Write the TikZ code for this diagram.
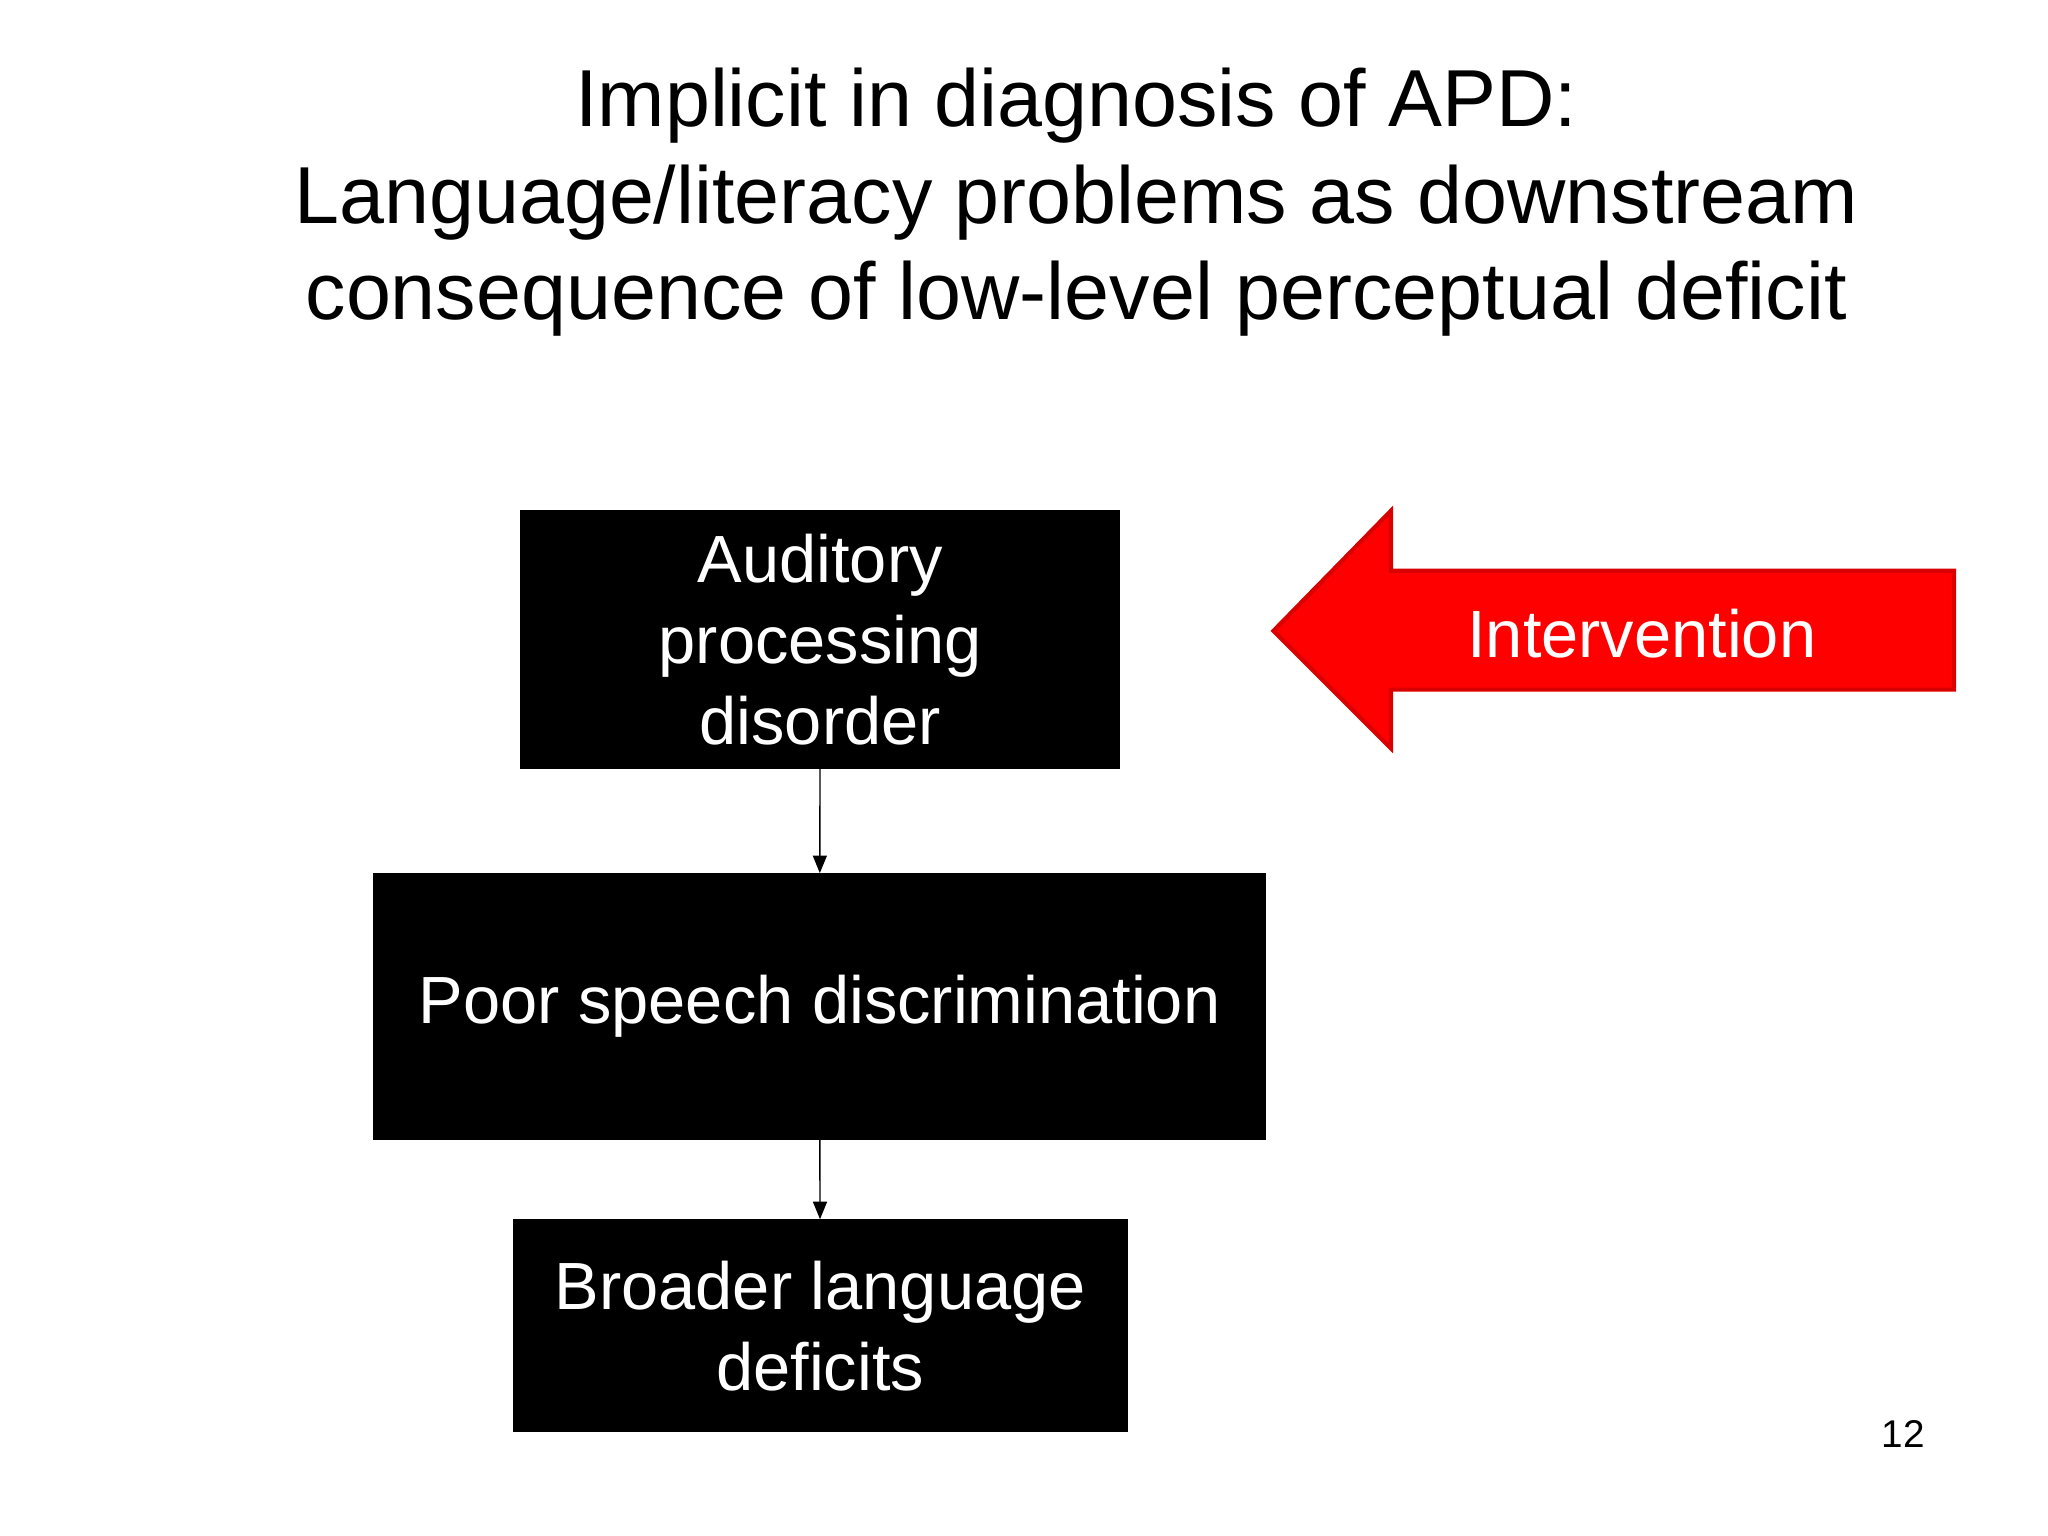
\documentclass[tikz,border=0pt]{standalone}
\usepackage{fontspec}
\setmainfont{Liberation Sans}
\usetikzlibrary{positioning}
\usetikzlibrary{arrows.meta}

\tikzset{
  box/.style={draw=black, fill=black, text=white, align=center, inner sep=0pt,
    font=\fontsize{19}{23}\selectfont},
  link/.style={-{Triangle[length=5pt,width=4pt]}, thin}
}

\begin{document}
\begin{tikzpicture}[x=0.01306cm, y=-0.01306cm]
    \useasboundingbox (0,0) rectangle (1568,1176);

    % title
    \node[align=center, font=\fontsize{23}{27.5}\selectfont] (title) at (824,155)
      {Implicit in diagnosis of APD:\\
       Language/literacy problems as downstream\\
       consequence of low-level perceptual deficit};

    % boxes
    \node[box, minimum width=458*0.01306cm, minimum height=197*0.01306cm] (apd) at (628,489.5)
      {Auditory\\processing\\disorder};
    \node[box, minimum width=683*0.01306cm, minimum height=203*0.01306cm] (speech) at (627.5,770.5)
      {Poor speech discrimination};
    \node[box, minimum width=470*0.01306cm, minimum height=162*0.01306cm] (lang) at (628,1015)
      {Broader language\\deficits};

    \draw[link] (apd) -- (speech);
    \draw[link] (speech) -- (lang);

    % intervention arrow
    \draw[fill=red, draw=red!85!black, line width=1.2pt, line join=miter]
      (975,483) -- (1065,391) -- (1065,437) -- (1496,437) -- (1496,528)
      -- (1065,528) -- (1065,573) -- cycle;
    \node[text=white, font=\fontsize{19}{23}\selectfont] (interv) at (1257,485) {Intervention};

    \node[font=\fontsize{11}{13}\selectfont] (page) at (1457,1098) {12};
\end{tikzpicture}
\end{document}
